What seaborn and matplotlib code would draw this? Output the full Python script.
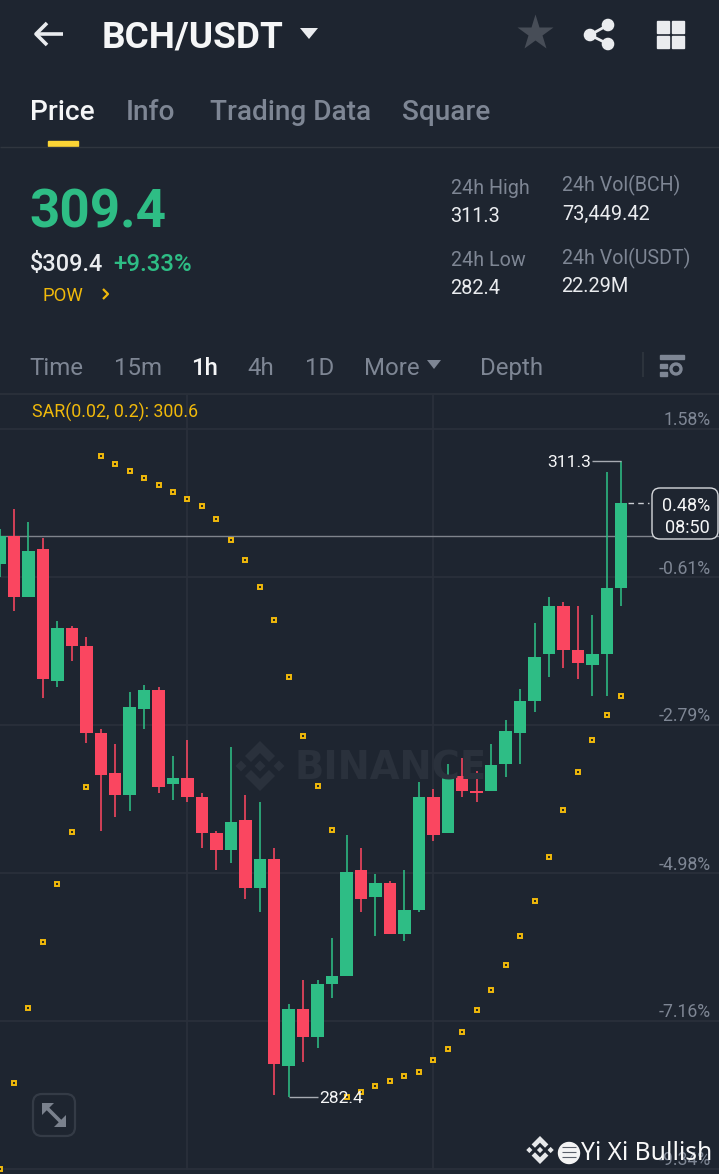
import numpy as np
import pandas as pd
import matplotlib
matplotlib.use("Agg")
import matplotlib.pyplot as plt
from matplotlib.patches import FancyBboxPatch, Polygon, Circle, Rectangle
import seaborn as sns

# ---------- data ----------
candle_index = list(range(-1, 43))
opens = [306.62, 307.91, 305.11, 307.30, 301.32, 303.71, 302.91, 298.93, 297.11, 296.12, 300.02,
         300.91, 296.61, 296.91, 296.02, 294.41, 293.62, 295.00, 291.91, 293.22, 283.82, 286.40,
         285.11, 287.52, 287.91, 292.72, 291.50, 292.11, 289.81, 290.91, 296.02, 294.41, 297.00,
         296.30, 296.32, 297.52, 298.93, 300.41, 302.52, 304.71, 302.73, 302.02, 302.52, 305.52]
highs = [308.21, 309.12, 308.52, 307.80, 304.02, 303.80, 303.30, 299.11, 298.43, 300.80, 301.12,
         301.02, 297.91, 298.62, 296.20, 294.50, 298.32, 296.12, 295.81, 293.70, 286.61, 287.72,
         287.72, 289.61, 294.31, 293.72, 292.53, 292.22, 292.72, 296.71, 296.41, 297.52, 297.80,
         297.21, 298.43, 299.52, 300.93, 303.93, 305.11, 304.91, 304.71, 304.30, 310.81, 311.30]
lows = [306.03, 304.50, 305.11, 300.52, 301.02, 302.21, 298.50, 294.50, 295.11, 295.41, 299.11,
        296.23, 295.90, 295.82, 293.72, 292.72, 293.02, 291.41, 290.82, 282.51, 282.40, 284.00,
        284.61, 286.91, 287.91, 290.82, 289.72, 289.81, 289.50, 290.82, 294.02, 294.41, 296.02,
        295.82, 296.32, 296.93, 297.52, 299.91, 301.50, 301.91, 301.41, 300.62, 300.62, 304.73]
closes = [307.91, 305.11, 307.21, 301.41, 303.71, 302.91, 298.93, 297.02, 296.12, 300.11, 300.91,
          296.50, 296.91, 296.02, 294.41, 293.62, 294.91, 291.91, 293.22, 283.90, 286.40, 285.11,
          287.52, 287.91, 292.61, 291.41, 292.11, 289.81, 290.91, 296.02, 294.32, 296.91, 296.32,
          296.21, 297.50, 299.02, 300.41, 302.41, 304.71, 302.73, 302.12, 302.52, 305.52, 309.40]
sar = [279.13, 283.02, 286.43, 289.44, 292.09, 294.43, 296.49, 311.51, 311.18, 310.85, 310.51,
       310.20, 309.88, 309.57, 309.27, 308.65, 307.70, 306.79, 305.56, 304.09, 301.50, 298.82,
       296.53, 294.55, 282.41, 282.64, 282.89, 283.11, 283.34, 283.55, 284.08, 284.58, 285.35,
       286.35, 287.26, 288.38, 289.72, 291.29, 293.31, 295.43, 297.17, 298.61, 299.77, 300.62]
base_price = 307.9
pct_levels = [1.58, -0.61, -2.79, -4.98, -7.16, -9.34]
pct_labels = ["1.58%", "-0.61%", "-2.79%", "-4.98%", "-7.16%", "-9.34%"]
tabs = ["Price", "Info", "Trading Data", "Square"]
intervals = ["Time", "15m", "1h", "4h", "1D", "More", "Depth"]

# ---------- style ----------
BG = "#1E2530"
GRID = "#2A303B"
GREEN = "#2EBD85"
RED = "#FA4660"
YEL = "#F0B90B"
GRAY = "#7E8694"
WHITE = "#EAECEF"
FONT = "Roboto"

sns.set_theme(style="dark", rc={"axes.facecolor": BG, "figure.facecolor": BG})
plt.rcParams["font.family"] = [FONT, "DejaVu Sans"]

W, H = 719, 1174
fig = plt.figure(figsize=(W / 100, H / 100), dpi=100, facecolor=BG)

# ---------- chart ----------
top_px, bot_px = 395, 1170
ax = fig.add_axes([0, 1 - bot_px / H, 1, (bot_px - top_px) / H], facecolor=BG)

df = pd.DataFrame({"i": candle_index, "o": opens, "h": highs, "l": lows, "c": closes, "sar": sar})
df["bottom"] = df[["o", "c"]].min(axis=1)
df["size"] = (df["o"] - df["c"]).abs()
df["up"] = df["c"] >= df["o"]

for is_up, colour in [(True, GREEN), (False, RED)]:
    sub = df[df["up"] == is_up]
    ax.vlines(sub["i"], sub["l"], sub["h"], color=colour, lw=1.15, zorder=3)
    sns.barplot(data=sub, x="i", y="size", bottom=sub["bottom"].to_numpy(), native_scale=True,
                width=0.86, color=colour, saturation=1, errorbar=None, linewidth=0, ax=ax, zorder=4)

sns.scatterplot(data=df, x="i", y="sar", marker="s", s=12, facecolor="#2A2A20", edgecolor=YEL,
                linewidth=1.4, ax=ax, zorder=5, clip_on=False)
ax.collections[-1].set_joinstyle("miter")

ax.set_xlim(-0.968, 48.76)
ax.set_ylim(279.08, 314.30)
ax.set_xlabel("")
ax.set_ylabel("")
ax.set_xticks([12, 29])
ax.set_yticks([base_price * (1 + p / 100) for p in pct_levels])
ax.tick_params(length=0, labelleft=False, labelbottom=False)
ax.grid(True, color=GRID, lw=1.3, zorder=1)
ax.set_axisbelow(True)
for s in ax.spines.values():
    s.set_visible(False)
ax.axhline(base_price, color="#7F848C", lw=1.0, zorder=2)

for p, lab in zip(pct_levels, pct_labels):
    ax.annotate(lab, xy=(1, base_price * (1 + p / 100)), xycoords=("axes fraction", "data"),
                xytext=(-6.0, 6.2), textcoords="offset points", ha="right", va="center",
                fontsize=12.7, color=GRAY, zorder=2)

# ---------- overlay in pixels for the app's interface ----------
ui = fig.add_axes([0, 0, 1, 1], facecolor="none")
ui.set_xlim(0, W)
ui.set_ylim(H, 0)
ui.axis("off")


def T(x, y, s, px, color=WHITE, weight="normal", ha="left", va="baseline", z=10, family=None):
    ui.text(x, y, s, fontsize=px * 0.72, color=color, fontweight=weight, ha=ha, va=va, zorder=z,
            family=family or [FONT, "DejaVu Sans"])


def L(xs, ys, color, lw=1.0, z=9, **kw):
    ui.plot(xs, ys, color=color, lw=lw, zorder=z, solid_capstyle=kw.pop("cap", "butt"), **kw)


def poly(pts, color, z=9):
    ui.add_patch(Polygon(pts, closed=True, facecolor=color, edgecolor="none", zorder=z))


def logo(cx, cy, r, color, z=2):
    u = r / 25.0
    def P(pts):
        poly([(cx + a * u, cy + b * u) for a, b in pts], color, z)
    P([(0, -25), (15, -10), (9, -4), (0, -13), (-9, -4), (-15, -10)])
    P([(0, 25), (15, 10), (9, 4), (0, 13), (-9, 4), (-15, 10)])
    P([(-19, -5.5), (-13.5, 0), (-19, 5.5), (-24.5, 0)])
    P([(19, -5.5), (24.5, 0), (19, 5.5), (13.5, 0)])
    P([(0, -5.5), (5.5, 0), (0, 5.5), (-5.5, 0)])


# header
L([37, 63], [34, 34], WHITE, 2.6)
L([47, 36, 47], [23, 34, 45], WHITE, 2.6)
T(102, 48, "BCH/USDT", 37, "#F5F6F7", "bold")
poly([(300, 28), (318, 28), (309, 39)], WHITE)
ui.plot([535], [33], marker="*", ms=27, color="#474D57", mec="none", zorder=9)
for a, b in [(590, 35), (608, 25), (608, 44)]:
    ui.add_patch(Circle((a, b), 5.6, color=WHITE, zorder=9))
L([608, 590, 608], [25, 35, 44], WHITE, 2.0)
for a, b in [(657, 21), (672, 21), (657, 36), (672, 36)]:
    ui.add_patch(Rectangle((a, b), 12, 12, color=WHITE, zorder=9))

# tabs
for x, s, c in zip([30, 126, 210, 402], tabs, ["#F5F6F7", GRAY, GRAY, GRAY]):
    T(x, 120, s, 28, c, "medium")
ui.add_patch(Rectangle((48, 141), 30, 5, color="#FCD535", zorder=9))
L([0, 719], [147, 147], "#30363F", 1.0)

# price block
T(29, 228, "309.4", 53, GREEN, "bold")
T(30, 271, "$309.4", 23.5, WHITE, "medium")
T(113, 271, "+9.33%", 24, GREEN, "medium")
T(42, 301, "POW", 18.5, YEL)
L([103, 108, 103], [289, 294, 299], YEL, 1.6)

T(451, 194, "24h High", 19.8, GRAY)
T(450, 222, "311.3", 20, WHITE)
T(562, 191, "24h Vol(BCH)", 19.6, GRAY)
T(562, 220, "73,449.42", 20, WHITE)
T(451, 266, "24h Low", 19.8, GRAY)
T(450, 294, "282.4", 20, WHITE)
T(562, 264, "24h Vol(USDT)", 19.6, GRAY)
T(561, 292, "22.29M", 20, WHITE)

# interval row
for x, s in zip([29, 114, 191, 247, 305, 364, 480], intervals):
    on = s == "1h"
    T(x, 375, s, 24, "#F5F6F7" if on else GRAY, "medium" if on else "normal")
poly([(427, 360), (441, 360), (434, 369)], GRAY)
L([643, 643], [352, 377], "#30363F", 1.2)
for a, b, w in [(660, 355, 24), (660, 364, 7), (660, 372, 7)]:
    ui.add_patch(Rectangle((a, b), w, 3.5, color=GRAY, zorder=9))
ui.add_patch(Circle((676, 369), 5.0, facecolor=BG, edgecolor=GRAY, lw=2.4, zorder=9))
L([0, 719], [394, 394], "#2C323C", 1.2)

T(32, 418, "SAR(0.02, 0.2): 300.6", 17.8, YEL)

# watermark
logo(260, 766, 25, "#2A313C", z=1.5)
ui.text(295, 780, "BINANCE", fontsize=38.5 * 0.72, color="#2A313C", fontweight="bold", ha="left",
        va="baseline", zorder=1.5, family="DejaVu Sans")

# high / low / last-price callouts
T(547, 467, "311.3", 17.5, "#F5F6F7")
L([592, 621], [461, 461], "#A7ABB2", 1.0)
T(319, 1103, "282.4", 17.5, "#F5F6F7", z=6)
L([289, 318], [1097, 1097], "#A7ABB2", 1.0)
L([628, 649], [502.7, 502.7], "#C9CCD1", 1.0, ls=(0, (4, 3)))
ui.add_patch(FancyBboxPatch((652, 488), 66, 51, boxstyle="round,pad=0,rounding_size=8",
                            facecolor=BG, edgecolor="#D5D8DC", lw=1.0, zorder=8))
T(710, 506, "0.48%", 18, "#F5F6F7", ha="right", va="center")
T(710, 528, "08:50", 18, "#F5F6F7", ha="right", va="center")

# expand button
ui.add_patch(FancyBboxPatch((33, 1094), 42, 42, boxstyle="round,pad=0,rounding_size=9",
                            facecolor="none", edgecolor="#343B46", lw=1.6, zorder=9))
poly([(42, 1103), (54, 1103), (42, 1115)], "#7A818D")
poly([(66, 1127), (54, 1127), (66, 1115)], "#7A818D")
L([44, 64], [1105, 1125], "#7A818D", 2.6)

# bottom-right credit
logo(540, 1150, 14, "#E6E8EA", z=11)
ui.add_patch(Circle((569, 1153), 10.5, color="#F4F4F4", zorder=11))
for yy in (1147, 1152, 1157):
    L([562, 576], [yy, yy], "#5A606A", 0.8, z=12)
T(581, 1160, "Yi Xi Bullish", 24.6, "#F8F8F8", z=12, family=["Noto Sans", "DejaVu Sans"])

fig.savefig("out.png", dpi=100, facecolor=BG)
